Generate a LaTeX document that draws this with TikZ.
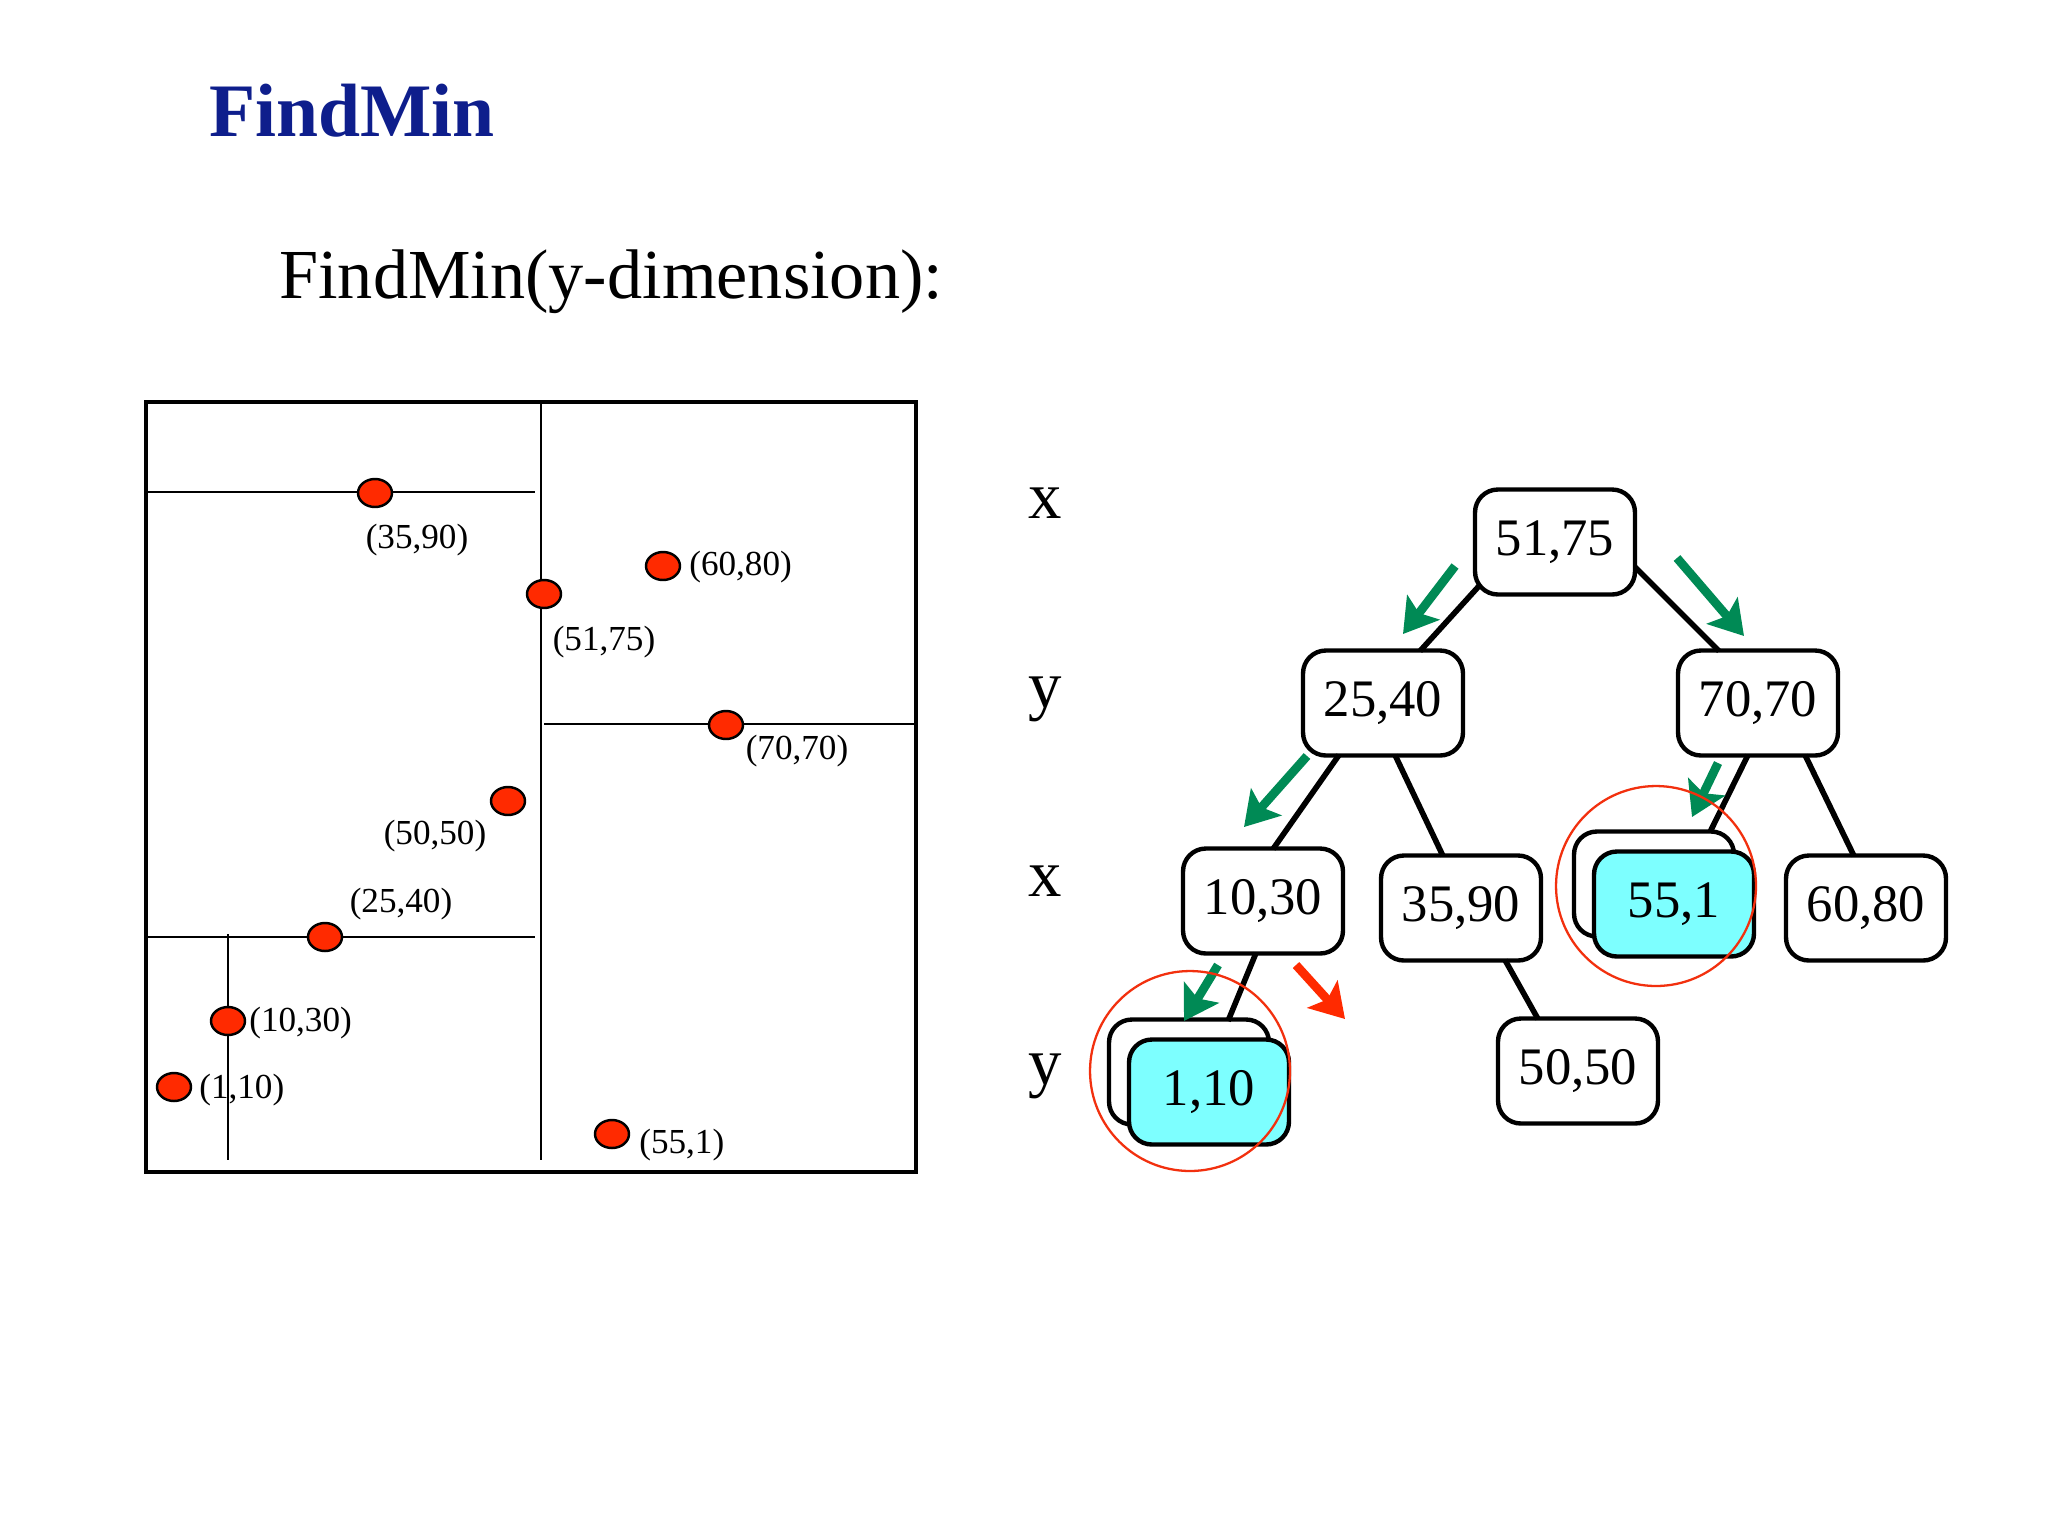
\documentclass[tikz,border=0pt]{standalone}
\usepackage{fontspec}
\setmainfont{Liberation Serif}
\usepackage{xcolor}
\usetikzlibrary{arrows.meta,shapes.geometric,calc}
\definecolor{TitleBlue}{HTML}{0E1E8C}
\definecolor{PointRed}{HTML}{FF2A00}
\definecolor{HitCyan}{HTML}{7DFFFF}
\definecolor{WalkGreen}{HTML}{008A55}
\definecolor{RingRed}{HTML}{F2300E}

\begin{document}
\begin{tikzpicture}[x=0.02cm, y=-0.02cm,
  kdbox/.style={rounded corners=13pt, draw, line width=2.5pt, fill=white, minimum width=3.2cm, minimum height=2.1cm, inner sep=2pt, font=\fontsize{30}{36}\selectfont},
  hitbox/.style={kdbox, fill=HitCyan},
  kdpoint/.style={ellipse, draw, line width=1.4pt, fill=PointRed, minimum width=0.68cm, minimum height=0.56cm, inner sep=0pt},
  ptlabel/.style={inner sep=0pt, font=\fontsize{20}{24}\selectfont},
  dimlabel/.style={inner sep=0pt, anchor=base, font=\fontsize{38}{44}\selectfont},
  cutline/.style={line width=0.9pt},
  treeline/.style={line width=3.2pt},
  walkarr/.style={line width=5pt, WalkGreen, -{Stealth[length=19pt,width=23pt,inset=4pt]}},
  stoparr/.style={walkarr, PointRed},
  ring/.style={circle, draw=RingRed, line width=1.3pt, minimum size=4cm, inner sep=0pt}]
\useasboundingbox (0,0) rectangle (2048,1536);

% headings
\node[anchor=base west, inner sep=0pt, text=TitleBlue, font=\bfseries\fontsize{43}{50}\selectfont] (title) at (209,136) {FindMin};
\node[anchor=base west, inner sep=0pt, font=\fontsize{40}{46}\selectfont] (subtitle) at (279,298) {FindMin(y-dimension):};

% the plane and its cuts
\draw[line width=2.3pt] (146,402) rectangle (916,1172);
\draw[cutline] (541,403) -- (541,1160);
\draw[cutline] (147,492) -- (535,492);
\draw[cutline] (544,724) -- (916,724);
\draw[cutline] (147,937) -- (535,937);
\draw[cutline] (228,934) -- (228,1160);

\node[kdpoint] (pt3590) at (375,493) {};
\node[kdpoint] (pt6080) at (663,566) {};
\node[kdpoint] (pt5175) at (544,594) {};
\node[kdpoint] (pt7070) at (726,725) {};
\node[kdpoint] (pt5050) at (508,801) {};
\node[kdpoint] (pt2540) at (325,937) {};
\node[kdpoint] (pt1030) at (228,1021) {};
\node[kdpoint] (pt110) at (174,1087) {};
\node[kdpoint] (pt551) at (612,1134) {};

\node[ptlabel] (lb3590) at (417,540) {(35,90)};
\node[ptlabel, anchor=west] (lb6080) at (689,567) {(60,80)};
\node[ptlabel] (lb5175) at (604,642) {(51,75)};
\node[ptlabel] (lb7070) at (797,751) {(70,70)};
\node[ptlabel] (lb5050) at (435,836) {(50,50)};
\node[ptlabel] (lb2540) at (401,904) {(25,40)};
\node[ptlabel, anchor=west] (lb1030) at (249,1023) {(10,30)};
\node[ptlabel, anchor=west] (lb110) at (199,1090) {(1,10)};
\node[ptlabel, anchor=west] (lb551) at (639,1145) {(55,1)};

% split dimensions
\node[dimlabel] (d1) at (1045,518) {x};
\node[dimlabel] (d2) at (1045,707) {y};
\node[dimlabel] (d3) at (1045,896) {x};
\node[dimlabel] (d4) at (1045,1084) {y};

% the tree
\node[kdbox] (p5175) at (1555,542) {51,75};
\node[kdbox] (p2540) at (1383,703) {25,40};
\node[kdbox] (p7070) at (1758,703) {70,70};
\node[kdbox] (p1030) at (1263,901) {10,30};
\node[kdbox] (p3590) at (1461,908) {35,90};
\node[kdbox] (b551) at (1654,884) {};
\node[hitbox] (p551) at (1674,904) {55,1};
\node[kdbox] (p6080) at (1866,908) {60,80};
\node[kdbox] (b110) at (1189,1072) {};
\node[hitbox] (p110) at (1209,1092) {1,10};
\node[kdbox] (p5050) at (1578,1071) {50,50};

\draw[treeline] ($(p5175)+(-76,44)$) -- ($(p2540)+(37,-52)$);
\draw[treeline] ($(p5175)+(80,25)$) -- ($(p7070)+(-39,-52)$);
\draw[treeline] ($(p2540)+(-44,52)$) -- ($(p1030)+(10,-52)$);
\draw[treeline] ($(p2540)+(12,52)$) -- ($(p3590)+(-18,-52)$);
\draw[treeline] ($(p7070)+(-10,52)$) -- ($(b551)+(56,-52)$);
\draw[treeline] ($(p7070)+(47,52)$) -- ($(p6080)+(-12,-52)$);
\draw[treeline] ($(p1030)+(-7,52)$) -- ($(b110)+(39,-51)$);
\draw[treeline] ($(p3590)+(44,52)$) -- ($(p5050)+(-40,-52)$);

% search path
\coordinate (w1a) at (1455,566); \coordinate (w1b) at (1403,634);
\coordinate (w2a) at (1677,558); \coordinate (w2b) at (1744,636);
\coordinate (w3a) at (1307,756); \coordinate (w3b) at (1244,827);
\coordinate (w4a) at (1718,763); \coordinate (w4b) at (1692,817);
\coordinate (w5a) at (1218,965); \coordinate (w5b) at (1184,1021);
\coordinate (s1a) at (1296,965); \coordinate (s1b) at (1345,1019);
\draw[walkarr] (w1a) -- (w1b);
\draw[walkarr] (w2a) -- (w2b);
\draw[walkarr] (w3a) -- (w3b);
\draw[walkarr] (w4a) -- (w4b);
\draw[walkarr] (w5a) -- (w5b);
\draw[stoparr] (s1a) -- (s1b);

\node[ring] (r110) at (1190,1071) {};
\node[ring] (r551) at (1656,886) {};
\end{tikzpicture}
\end{document}
